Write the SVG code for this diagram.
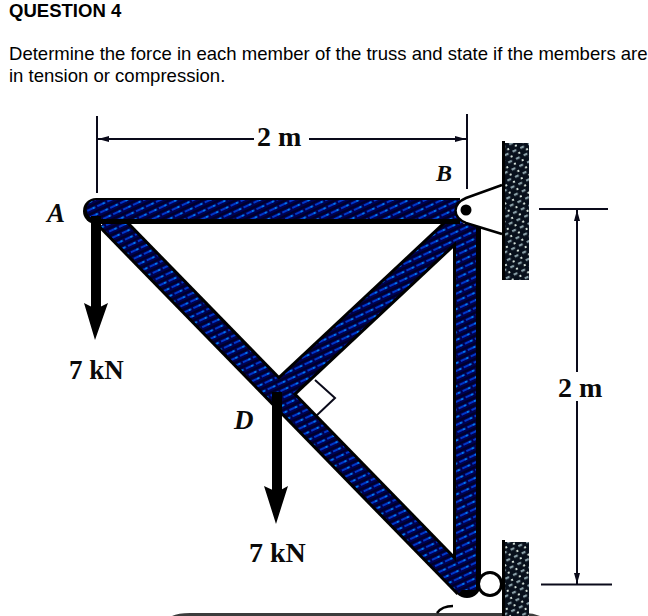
<svg xmlns="http://www.w3.org/2000/svg" width="648" height="616" viewBox="0 0 648 616">
<style>
.h{font-family:"Liberation Sans",Arial,sans-serif;font-size:18.55px;fill:#000}
.s{font-family:"Liberation Serif","Times New Roman",serif;font-weight:bold;font-size:28px;fill:#0a0a0a}
.i{font-style:italic}
.l{stroke:#0a0a1a;fill:none;stroke-width:2}
.o{stroke:#000;fill:none}
.m{stroke:url(#hatch);fill:none}
.w{fill:url(#wall);stroke:none}
</style>
<defs>
<pattern id="hatch" width="11" height="7" patternUnits="userSpaceOnUse" patternTransform="rotate(-25)">
<rect width="11" height="7" fill="#000050"/>
<rect y="0" width="11" height="2" fill="#00002a"/>
<rect x="1" y="3" width="6" height="2" fill="#0038c8"/>
<rect x="7" y="3" width="2.5" height="2" fill="#0078f0"/>
</pattern>
<pattern id="wall" width="8.5" height="8" patternUnits="userSpaceOnUse" patternTransform="rotate(-25)">
<rect width="8.5" height="8" fill="#08101c"/>
<rect x="1" y="1" width="4" height="2.2" fill="#8aa0a8"/>
<rect x="5.5" y="5" width="2" height="2" fill="#d5e2da"/>
</pattern>
<marker id="tip" markerWidth="12" markerHeight="8" refX="11" refY="4" orient="auto-start-reverse" markerUnits="userSpaceOnUse"><path d="M0 1L11 4L0 7Z" fill="#0a0a1a"/></marker>
</defs>
<rect width="648" height="616" fill="#fff"/>
<text class="h" x="9" y="17" style="font-weight:bold">QUESTION 4</text>
<text class="h" x="9" y="60">Determine the force in each member of the truss and state if the members are</text>
<text class="h" x="9" y="82">in tension or compression.</text>

<path id="frame-edge" d="M172 616Q178 613 190 613H525Q533 613 540 616Z" fill="#3c3c3c"/>
<g id="supports">
<rect class="w" x="503" y="143" width="26" height="137"/>
<rect x="502" y="141" width="3" height="139" fill="#000"/>
<rect class="w" x="503" y="542" width="26" height="74"/>
<rect x="502" y="540" width="3" height="76" fill="#000"/>
</g>

<g id="connectors">
<path class="l" d="M97 116V193"/>
<path class="l" d="M467 114V189"/>
<path class="l" d="M98 139H254" marker-start="url(#tip)"/>
<path class="l" d="M309 139H466" marker-end="url(#tip)"/>
<path class="l" d="M539 209H608"/>
<path class="l" d="M577 210V372" marker-start="url(#tip)"/>
<path class="l" d="M577 401V584" marker-end="url(#tip)"/>
<path class="l" d="M541 584.500H612"/>
<path class="l" d="M315 380L335 398L315 417"/>
</g>

<g id="members">
<g id="member-AC-outline"><path class="o" stroke-width="26" d="M108 219L466 586"/></g>
<g id="member-BC-outline"><path class="o" stroke-width="28" d="M467 224V584"/><circle cx="467" cy="584" r="14" fill="#000"/></g>
<g id="member-BD-outline"><path class="o" stroke-width="26" d="M274 398L462 222"/></g>
<g id="member-AC"><path class="m" stroke-width="20" d="M108 219L466 586"/></g>
<g id="member-BD"><path class="m" stroke-width="20" d="M276 396L462 222"/></g>
<g id="member-BC"><path class="m" stroke-width="20" d="M466 224V590"/></g>
<g id="member-AB">
<path d="M96 198H460V224H96A13 13 0 0 1 96 198Z" fill="#000"/>
<path d="M96 200H460V219H96A9.500 9.500 0 0 1 96 200Z" fill="url(#hatch)"/>
</g>
</g>

<g id="node-B">
<path d="M502 185L466 198C452 204 452 217 466 223L502 234" fill="#fff" stroke="#000" stroke-width="2.500"/>
<circle cx="466" cy="210" r="5.500" fill="#000"/>
<text class="s i" x="436" y="181" style="font-size:24px">B</text>
</g>
<g id="node-C"><circle cx="490" cy="584" r="11.500" fill="#fff" stroke="#000" stroke-width="3"/></g>
<g id="node-A">
<path d="M96 216V310" stroke="#000" stroke-width="10"/>
<path d="M84 303L95 340L108 303L96 309Z" fill="#000"/>
<text class="s i" x="47" y="222" style="font-size:27px">A</text>
<text class="s" x="69" y="379" style="font-size:27px">7 kN</text>
</g>
<g id="node-D">
<path d="M277 392V492" stroke="#000" stroke-width="10"/>
<path d="M264 486L276 524L288 486L277 492Z" fill="#000"/>
<text class="s i" x="234" y="429" style="font-size:27px">D</text>
<text class="s" x="249" y="562">7 kN</text>
</g>
<text class="s" x="257" y="146">2 m</text>
<text class="s" x="558" y="397">2 m</text>
<path d="M437 613Q442 606 453 606" stroke="#000" stroke-width="2.500" fill="none"/>
</svg>
